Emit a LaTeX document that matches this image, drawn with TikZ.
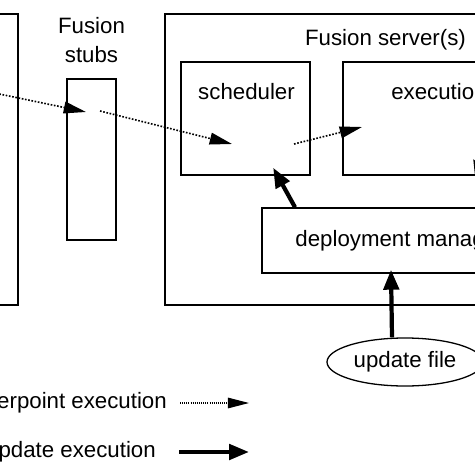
\documentclass[tikz,border=0pt]{standalone}
\usepackage{fontspec}
\setmainfont{Liberation Sans}
\usetikzlibrary{shapes.geometric, arrows.meta, positioning}
\tikzstyle{box} = [rectangle, draw=black, line width=1.3pt, inner sep=0pt]
\tikzstyle{file} = [ellipse, draw=black, line width=1.1pt, inner sep=0pt, minimum width=4.68cm, minimum height=1.44cm]
\tikzstyle{call} = [dash pattern=on 1.4pt off 1.4pt, line width=1.4pt, -{Triangle[length=19pt,width=10pt]}]
\tikzstyle{legendcall} = [dash pattern=on 0.9pt off 0.9pt, line width=1pt, -{Triangle[length=18pt,width=9pt]}]
\tikzstyle{update} = [line width=3.6pt, -{Triangle[length=17pt,width=13pt]}]

\begin{document}
\begin{tikzpicture}[x=0.03cm, y=-0.03cm, every node/.style={font=\fontsize{19}{24}\selectfont}]
\useasboundingbox (0,0) rectangle (474,474);

\node (client) [box, minimum width=3.54cm, minimum height=8.73cm] at (-41,159.5) {};
\node (stubs) [box, minimum width=1.47cm, minimum height=4.83cm] at (91.5,159.5) {};
\node (stubslabel) [align=center] at (91.5,40) {Fusion\\stubs};
\node (server) [box, minimum width=11.85cm, minimum height=8.73cm] at (362.5,159.5) {};
\node (serverlabel) at (385.5,39.5) {Fusion server(s)};
\node (sched) [box, minimum width=3.87cm, minimum height=3.39cm] at (245.5,118.5) {};
\node (schedlabel) at (246.5,92) {scheduler};
\node (exec) [box, minimum width=5.76cm, minimum height=3.39cm] at (439,118.5) {};
\node (execlabel) at (439,92) {execution};
\node (deploy) [box, minimum width=8.28cm, minimum height=1.95cm] at (400,240.5) {deployment manager};
\node (upd) [file] at (405,362) {update file};

% path of a call through the stubs
\coordinate (clientout) at (-20,90);
\coordinate (stubin) at (86,112);
\coordinate (stubout) at (100,111);
\coordinate (schedin) at (232,144);
\coordinate (schedout) at (294,144);
\coordinate (execin) at (362,127);

\draw [call] (clientout) -- (stubin);
\draw [call] (stubout) -- (schedin);
\draw [call] (schedout) -- (execin);

\draw [update] ([xshift=-0.39cm]upd.north) -- ([xshift=-0.27cm,yshift=0.12cm]deploy.south);
\draw [update] ([xshift=-3.15cm]deploy.north) -- ([xshift=0.83cm,yshift=0.24cm]sched.south);
\draw [update] ([xshift=3cm]deploy.north) -- ([xshift=1.02cm,yshift=0.51cm]exec.south);

% legend
\node (legcall) [anchor=east, inner sep=0pt] at (167,403) {erpoint execution};
\node (legupdate) [anchor=east, inner sep=0pt] at (156,452) {pdate execution};
\draw [legendcall] ([xshift=0.39cm]legcall.east) -- ++(2.07cm,0);
\draw [update] ([xshift=0.69cm]legupdate.east) -- ++(2.1cm,0);

\end{tikzpicture}
\end{document}
